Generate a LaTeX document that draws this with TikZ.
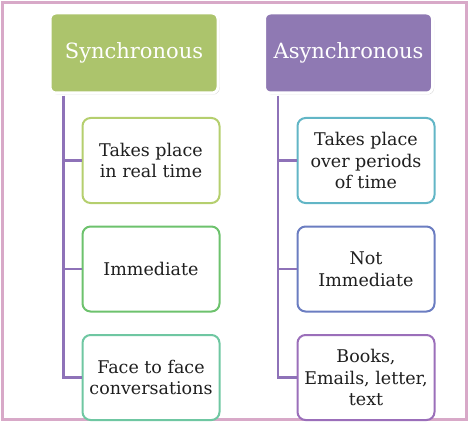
\documentclass[tikz,border=0pt]{standalone}
\usepackage{fontspec}
\setmainfont{DejaVu Serif}
\usetikzlibrary{positioning,shadows}
\definecolor{SyGreen}{HTML}{ACC46C}
\definecolor{AsPurple}{HTML}{8F79B3}
\definecolor{LinkPurple}{HTML}{8E72B8}
\definecolor{FramePink}{HTML}{D8A9C8}
\definecolor{EdLime}{HTML}{B5CF6E}
\definecolor{EdGreen}{HTML}{6DC26D}
\definecolor{EdTeal}{HTML}{6FC7A2}
\definecolor{EdCyan}{HTML}{62B6C6}
\definecolor{EdBlue}{HTML}{6B7DC1}
\definecolor{EdViolet}{HTML}{9B6FBA}
\tikzset{head/.style={rounded corners=6pt,draw=white,line width=3pt,text=white,minimum width=168pt,minimum height=80pt,font=\fontsize{21}{25}\selectfont,drop shadow={opacity=0.3,shadow xshift=1.5pt,shadow yshift=-1.5pt}}, item/.style={rounded corners=8pt,line width=2pt,fill=white,align=center,minimum width=137pt,minimum height=85pt,inner sep=2pt,font=\fontsize{17.5}{21.5}\selectfont,text=black!88}, link/.style={draw=LinkPurple,line width=2.5pt}}
\begin{document}
\begin{tikzpicture}[x=1pt,y=-1pt,node distance=21.5pt]
\useasboundingbox (0,0) rectangle (468,422);
\draw[FramePink,line width=3pt] (2.5,2.5) rectangle (466,419.5);
\node[head,fill=SyGreen] (sync) at (134,53) {Synchronous};\node[head,fill=AsPurple] (async) at (348.5,53) {Asynchronous};
\node[item,draw=EdLime] (s1) at (151,160.5) {Takes place\\in real time};\node[item,draw=EdGreen,below=of s1] (s2) {Immediate};\node[item,draw=EdTeal,below=of s2] (s3) {Face to face\\conversations};
\node[item,draw=EdCyan] (a1) at (366,160.5) {Takes place\\over periods\\of time};\node[item,draw=EdBlue,below=of a1] (a2) {Not\\Immediate};\node[item,draw=EdViolet,below=of a2] (a3) {Books,\\Emails, letter,\\text};
\draw[link] ([xshift=15pt,yshift=-1.5pt]sync.south west) |- (s1.west);\draw[link] ([xshift=15pt,yshift=-1.5pt]sync.south west) |- (s2.west);\draw[link] ([xshift=15pt,yshift=-1.5pt]sync.south west) |- (s3.west);
\draw[link] ([xshift=15pt,yshift=-1.5pt]async.south west) |- (a1.west);\draw[link] ([xshift=15pt,yshift=-1.5pt]async.south west) |- (a2.west);\draw[link] ([xshift=15pt,yshift=-1.5pt]async.south west) |- (a3.west);
\end{tikzpicture}
\end{document}
